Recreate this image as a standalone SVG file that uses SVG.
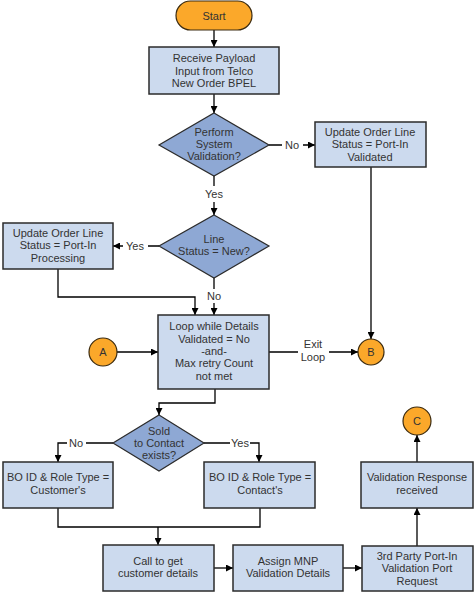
<svg xmlns="http://www.w3.org/2000/svg" width="474" height="593" viewBox="0 0 474 593">
<style>
.box{fill:#CCDAEE;stroke:#2b2b2b;stroke-width:1.5}
.dia{fill:#8EA8D4;stroke:#2b2b2b;stroke-width:1.2}
.term{fill:#FBA82A;stroke:#3a2a10;stroke-width:1.2}
text{font-family:"Liberation Sans",Arial,sans-serif;font-size:11px;fill:#333;text-anchor:middle}
.ln{fill:none;stroke:#000;stroke-width:1.3}
.lbl{fill:#333}
</style>
<defs>
<marker id="ah" viewBox="0 0 10 10" refX="10" refY="5" markerWidth="7" markerHeight="7" markerUnits="userSpaceOnUse" orient="auto"><path d="M0,0 L10,5 L0,10 z" fill="#000"/></marker>
</defs>
<rect width="474" height="593" fill="#fff"/>
<g id="connectors">
<path class="ln" d="M214,30 V47" marker-end="url(#ah)"/>
<path class="ln" d="M214,94 V113" marker-end="url(#ah)"/>
<path class="ln" d="M269,145 H282 M303,145 H315" marker-end="url(#ah)"/>
<path class="ln" d="M214,176 V186 M214,202 V215" marker-end="url(#ah)"/>
<path class="ln" d="M159,246 H148 M123,246 H113" marker-end="url(#ah)"/>
<path class="ln" d="M214,278 V289 M214,303 V315" marker-end="url(#ah)"/>
<path class="ln" d="M58,269 V297 H195 V315" marker-end="url(#ah)"/>
<path class="ln" d="M117,352 H158" marker-end="url(#ah)"/>
<path class="ln" d="M269,352 H298 M329,352 H358" marker-end="url(#ah)"/>
<path class="ln" d="M371,167 V339" marker-end="url(#ah)"/>
<path class="ln" d="M215,389 V403 H159 V415" marker-end="url(#ah)"/>
<path class="ln" d="M113,443 H86 M67,443 H58 V462" marker-end="url(#ah)"/>
<path class="ln" d="M204,443 H230 M250,443 H259 V462" marker-end="url(#ah)"/>
<path class="ln" d="M58,508 V527 H158 M260,508 V527 H158 V545" marker-end="url(#ah)"/>
<path class="ln" d="M214,568 H233" marker-end="url(#ah)"/>
<path class="ln" d="M343,568 H362" marker-end="url(#ah)"/>
<path class="ln" d="M417,546 V508" marker-end="url(#ah)"/>
<path class="ln" d="M417,462 V435" marker-end="url(#ah)"/>
</g>
<g id="labels">
<text x="292" y="149">No</text>
<text x="214" y="198">Yes</text>
<text x="135" y="250">Yes</text>
<text x="214" y="300">No</text>
<text x="313" y="348">Exit</text>
<text x="313" y="361">Loop</text>
<text x="76" y="447">No</text>
<text x="240" y="447">Yes</text>
</g>
<g id="start"><rect class="term" x="176" y="1" width="76" height="29" rx="14.5"/><text x="214" y="20">Start</text></g>
<g id="receive"><rect class="box" x="149" y="47" width="130" height="47"/><text x="214" y="62">Receive Payload</text><text x="214" y="75">Input from Telco</text><text x="214" y="87">New Order BPEL</text></g>
<g id="perform"><path class="dia" d="M214,113 L269,145 L214,176 L159,145 Z"/><text x="214" y="136">Perform</text><text x="214" y="148">System</text><text x="214" y="160">Validation?</text></g>
<g id="validated"><rect class="box" x="315" y="122" width="111" height="45"/><text x="370" y="136">Update Order Line</text><text x="370" y="148">Status = Port-In</text><text x="370" y="161">Validated</text></g>
<g id="linestatus"><path class="dia" d="M214,215 L269,246 L214,278 L159,246 Z"/><text x="214" y="243">Line</text><text x="214" y="255">Status = New?</text></g>
<g id="processing"><rect class="box" x="3" y="223" width="110" height="46"/><text x="58" y="237">Update Order Line</text><text x="58" y="249">Status = Port-In</text><text x="58" y="262">Processing</text></g>
<g id="loop"><rect class="box" x="158" y="315" width="111" height="74"/><text x="214" y="330">Loop while Details</text><text x="214" y="343">Validated = No</text><text x="214" y="355">-and-</text><text x="214" y="367">Max retry Count</text><text x="214" y="380">not met</text></g>
<g id="A"><circle class="term" cx="103" cy="352" r="14"/><text x="103" y="356">A</text></g>
<g id="B"><circle class="term" cx="371" cy="352" r="13"/><text x="371" y="356">B</text></g>
<g id="sold"><path class="dia" d="M159,415 L204,443 L159,471 L113,443 Z"/><text x="159" y="435">Sold</text><text x="159" y="447">to Contact</text><text x="159" y="459">exists?</text></g>
<g id="customers"><rect class="box" x="3" y="462" width="110" height="46"/><text x="58" y="481">BO ID &amp; Role Type =</text><text x="58" y="494">Customer's</text></g>
<g id="contacts"><rect class="box" x="204" y="462" width="111" height="46"/><text x="260" y="481">BO ID &amp; Role Type =</text><text x="260" y="494">Contact's</text></g>
<g id="C"><circle class="term" cx="417" cy="421" r="14"/><text x="417" y="425">C</text></g>
<g id="response"><rect class="box" x="361" y="462" width="112" height="46"/><text x="417" y="481">Validation Response</text><text x="417" y="494">received</text></g>
<g id="call"><rect class="box" x="103" y="545" width="111" height="46"/><text x="158" y="565">Call to get</text><text x="158" y="577">customer details</text></g>
<g id="assign"><rect class="box" x="233" y="545" width="110" height="46"/><text x="288" y="565">Assign MNP</text><text x="288" y="577">Validation Details</text></g>
<g id="thirdparty"><rect class="box" x="362" y="546" width="111" height="45"/><text x="417" y="560">3rd Party Port-In</text><text x="417" y="572">Validation Port</text><text x="417" y="585">Request</text></g>
</svg>
